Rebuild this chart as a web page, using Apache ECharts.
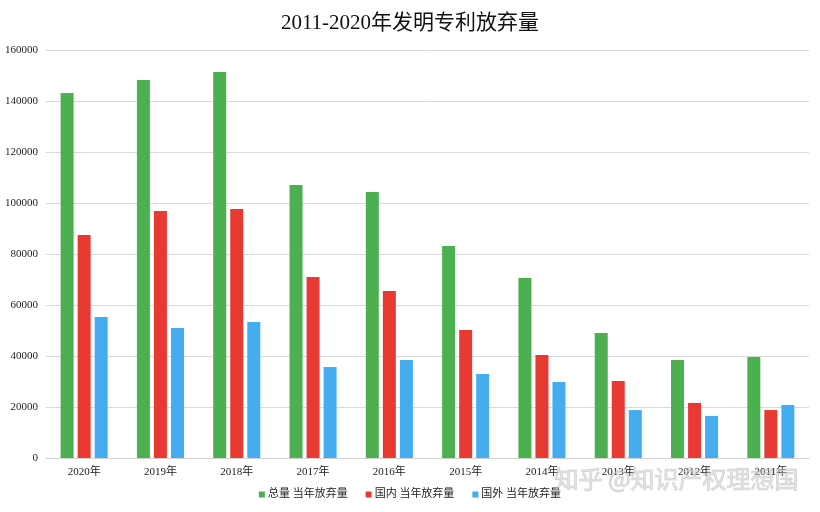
<!DOCTYPE html>
<html>
<head>
<meta charset="utf-8">
<script src="https://cdn.jsdelivr.net/npm/echarts@6/dist/echarts.min.js"></script>
<style>html,body{margin:0;padding:0;background:#fff;}#c{width:820px;height:512px;}</style>
</head>
<body>
<div id="c"></div>
<script>
const categories = ['2020年','2019年','2018年','2017年','2016年','2015年','2014年','2013年','2012年','2011年'];
const totalValues = [143100, 148200, 151400, 107100, 104300, 83100, 70600, 49000, 38400, 39600];
const domesticValues = [87500, 96900, 97600, 71000, 65500, 50200, 40400, 30200, 21600, 18800];
const foreignValues = [55300, 51000, 53300, 35700, 38400, 32900, 29800, 18800, 16500, 20800];
const seriesNames = ['总量 当年放弃量','国内 当年放弃量','国外 当年放弃量'];
const titleText = '2011-2020年发明专利放弃量';
const watermarkText = '知乎 @知识产权理想国';

const serif = '"Liberation Serif","DejaVu Serif","Noto Sans CJK SC",serif';
const chart = echarts.init(document.getElementById('c'));
chart.setOption({
  animation: false,
  backgroundColor: '#fff',
  color: ['#4caf50','#e83a33','#45adef'],
  title: {
    text: titleText, left: 'center', top: 8,
    textStyle: {fontFamily: serif, fontSize: 21, fontWeight: 'normal', color: '#111'}
  },
  legend: {
    bottom: 7, left: 'center', itemWidth: 6, itemHeight: 6, itemGap: 18,
    icon: 'rect',
    textStyle: {fontFamily: serif, fontSize: 11, color: '#222', padding: [0,0,0,-2]},
    data: seriesNames
  },
  grid: {left: 46, right: 11, top: 50, bottom: 54, containLabel: false},
  xAxis: {
    type: 'category', data: categories,
    axisLine: {lineStyle: {color: '#d0d0d0'}},
    axisTick: {show: false},
    axisLabel: {fontFamily: serif, fontSize: 11, color: '#222', margin: 9}
  },
  yAxis: {
    type: 'value', min: 0, max: 160000, interval: 20000,
    axisLine: {show: false}, axisTick: {show: false},
    splitLine: {lineStyle: {color: '#d9d9d9'}},
    axisLabel: {fontFamily: serif, fontSize: 11, color: '#222', margin: 8,
      formatter: function (v) { return String(v); }}
  },
  series: [
    {name: seriesNames[0], type: 'bar', data: totalValues, barWidth: 13, barGap: '31%'},
    {name: seriesNames[1], type: 'bar', data: domesticValues, barWidth: 13, barGap: '31%'},
    {name: seriesNames[2], type: 'bar', data: foreignValues, barWidth: 13, barGap: '31%'}
  ],
  graphic: [{
    type: 'text', left: 554, top: 466, silent: true, z: 100,
    style: {text: watermarkText, fontSize: 24, fontFamily: '"Noto Sans CJK SC",sans-serif',
      fill: 'rgba(210,210,210,0.55)', stroke: 'rgba(150,150,150,0.35)', lineWidth: 1}
  }]
});
</script>
</body>
</html>
